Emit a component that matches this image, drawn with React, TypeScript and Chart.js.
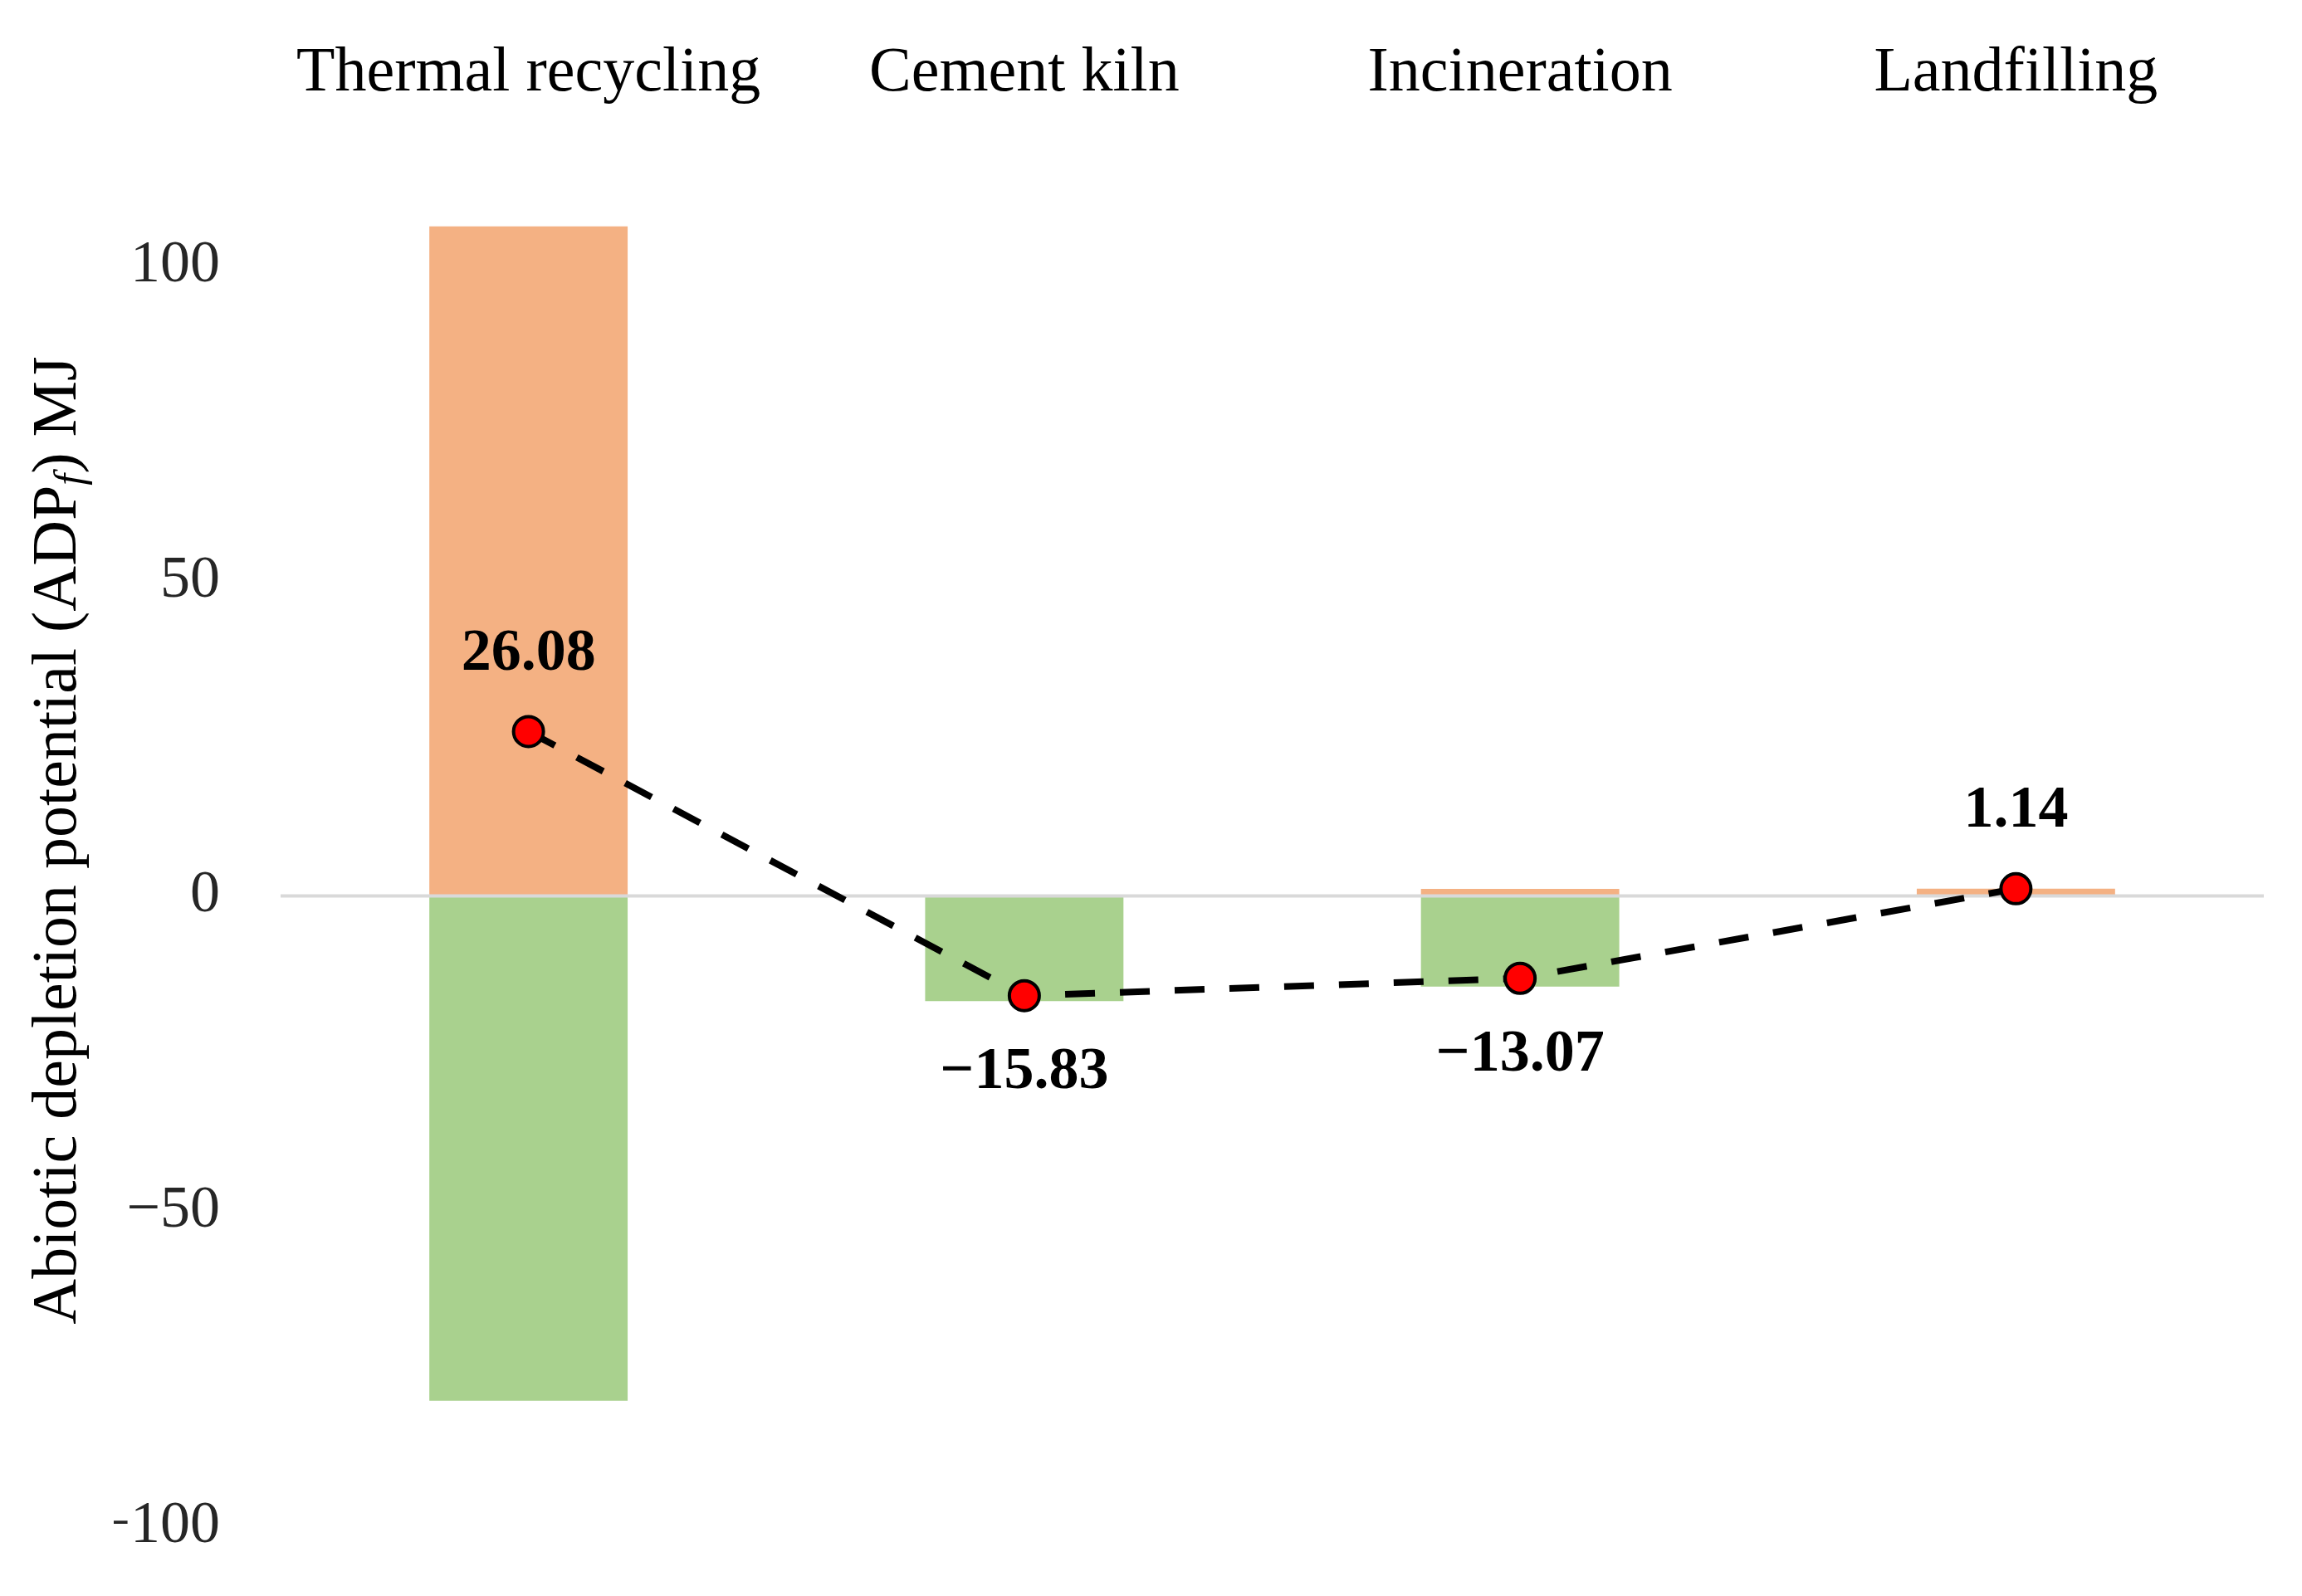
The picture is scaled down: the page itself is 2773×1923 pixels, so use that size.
import React, { useEffect, useRef } from 'react';
import { Chart, registerables } from 'chart.js';

Chart.register(...registerables);

// ---- data ----
const categories = ['Thermal recycling', 'Cement kiln', 'Incineration', 'Landfilling'];
const burdens = [106.2, 0, 1.1, 1.14];
const credits = [-80.1, -16.7, -14.4, 0];
const netValues = [26.08, -15.83, -13.07, 1.14];
const yTicks = [-100, -50, 0, 50, 100];
const yTitleMain = 'Abiotic depletion potential (ADP';
const yTitleSub = 'f';
const yTitleEnd = ') MJ';

const SERIF = '"Liberation Serif", "DejaVu Serif", serif';
const fmt = (v: number, d: number) => (v < 0 ? '\u2212' : '') + Math.abs(v).toFixed(d);

const zeroLinePlugin = {
  id: 'zeroLine',
  beforeDatasetDraw(chart: any, args: any) {
    if (args.index !== 0) return;
    const { ctx, chartArea, scales } = chart;
    const py = scales.y.getPixelForValue(0);
    ctx.save();
    ctx.strokeStyle = '#d9d9d9';
    ctx.lineWidth = 4;
    ctx.beginPath();
    ctx.moveTo(chartArea.left, py);
    ctx.lineTo(chartArea.right, py);
    ctx.stroke();
    ctx.restore();
  },
};

const netLabelPlugin = {
  id: 'netLabels',
  afterDatasetsDraw(chart: any) {
    const { ctx } = chart;
    const meta = chart.getDatasetMeta(0);
    ctx.save();
    ctx.font = `bold 72px ${SERIF}`;
    ctx.fillStyle = '#000';
    ctx.textAlign = 'center';
    ctx.textBaseline = 'middle';
    meta.data.forEach((pt: any, i: number) => {
      const v = netValues[i];
      const dy = v >= 0 ? -93 : 93;
      ctx.fillText(fmt(v, 2), pt.x, pt.y + dy);
    });
    ctx.restore();
  },
};

const yTitlePlugin = {
  id: 'yTitle',
  afterDraw(chart: any) {
    const { ctx } = chart;
    const mainFont = `76px ${SERIF}`;
    const subFont = `italic 50px ${SERIF}`;
    ctx.save();
    ctx.font = mainFont;
    const w1 = ctx.measureText(yTitleMain).width;
    const w3 = ctx.measureText(yTitleEnd).width;
    ctx.font = subFont;
    const w2 = ctx.measureText(yTitleSub).width;
    const total = w1 + w2 + w3;
    const cy = (chart.chartArea.top + chart.chartArea.bottom) / 2 - 29;
    ctx.translate(71, cy);
    ctx.rotate(-Math.PI / 2);
    ctx.fillStyle = '#000';
    ctx.textBaseline = 'middle';
    ctx.textAlign = 'left';
    let x = -total / 2;
    ctx.font = mainFont;
    ctx.fillText(yTitleMain, x, 0);
    x += w1;
    ctx.font = subFont;
    ctx.fillText(yTitleSub, x, 16);
    x += w2;
    ctx.font = mainFont;
    ctx.fillText(yTitleEnd, x, 0);
    ctx.restore();
  },
};

export default function App() {
  const ref = useRef<HTMLCanvasElement | null>(null);

  useEffect(() => {
    if (!ref.current) return;
    const chart = new Chart(ref.current, {
      type: 'bar',
      data: {
        labels: categories,
        datasets: [
          {
            type: 'line',
            label: 'Net',
            data: netValues,
            borderColor: '#000',
            borderWidth: 8,
            borderDash: [36, 30],
            pointRadius: 18,
            pointBorderWidth: 4,
            pointBackgroundColor: '#ff0000',
            pointBorderColor: '#000',
            fill: false,
            tension: 0,
            order: 0,
            clip: false,
          } as any,
          {
            type: 'bar',
            label: 'Burdens',
            data: burdens,
            backgroundColor: '#F4B183',
            borderWidth: 0,
            barPercentage: 0.5,
            categoryPercentage: 0.8,
            order: 1,
          },
          {
            type: 'bar',
            label: 'Credits',
            data: credits,
            backgroundColor: '#A9D18E',
            borderWidth: 0,
            barPercentage: 0.5,
            categoryPercentage: 0.8,
            order: 2,
          },
        ],
      },
      options: {
        animation: false,
        responsive: true,
        maintainAspectRatio: false,
        devicePixelRatio: 1,
        layout: { padding: { left: 137, right: 46, top: 0, bottom: 84 } },
        plugins: {
          legend: { display: false },
          tooltip: { enabled: false },
          title: { display: false },
        },
        scales: {
          x: {
            position: 'top',
            stacked: true,
            grid: { display: false, drawTicks: false },
            border: { display: false },
            ticks: {
              font: { family: SERIF, size: 76 },
              color: '#000',
              padding: 109,
              maxRotation: 0,
              autoSkip: false,
            },
            afterFit: (s: any) => {
              s.height = 244;
              s.paddingLeft = 0;
              s.paddingRight = 0;
            },
          },
          y: {
            stacked: true,
            min: -100,
            max: 110,
            grid: { display: false, drawTicks: false },
            border: { display: false },
            afterBuildTicks: (s: any) => {
              s.ticks = yTicks.map((v) => ({ value: v }));
            },
            ticks: {
              font: { family: SERIF, size: 72 },
              color: '#262626',
              padding: 73,
              callback: (v: any) => fmt(Number(v), 0),
            },
            afterFit: (s: any) => {
              s.width = 201;
              s.paddingTop = 0;
              s.paddingBottom = 0;
            },
          },
        },
      } as any,
      plugins: [zeroLinePlugin, netLabelPlugin, yTitlePlugin],
    });
    return () => chart.destroy();
  }, []);

  return (
    <div style={{ position: 'fixed', left: 0, top: 0, width: '2773px', height: '1923px', background: '#fff' }}>
      <canvas ref={ref} />
    </div>
  );
}
